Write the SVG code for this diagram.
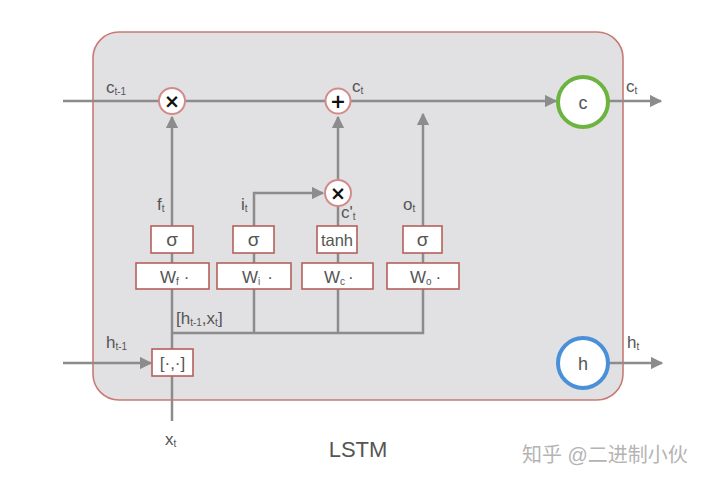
<svg xmlns="http://www.w3.org/2000/svg" width="708" height="483" viewBox="0 0 708 483">
<style>
.ln{stroke:#8c8c8c;stroke-width:2.5;fill:none}
.arr{marker-end:url(#ah)}
.op{fill:#fff;stroke:#d48a8a;stroke-width:2}
.bx{fill:#fff;stroke:#b5605a;stroke-width:1.6}
.t{font-family:"Liberation Sans",Arial,sans-serif;fill:#555}
.lbl{font-size:17px}
.sub{font-size:10px}
.sym{font-family:"DejaVu Sans",sans-serif;font-weight:bold;fill:#111;font-size:19px;text-anchor:middle}
</style>
<defs>
<marker id="ah" viewBox="0 0 10 10" refX="9" refY="5" markerWidth="5" markerHeight="5" orient="auto" markerUnits="strokeWidth">
<path d="M0,0 L10,5 L0,10 z" fill="#8c8c8c"/>
</marker>
</defs>
<rect width="708" height="483" fill="#fff"/>
<g id="cell">
<rect x="93" y="32" width="530" height="368" rx="26" ry="26" fill="#e1e1e3" stroke="#c97a76" stroke-width="1.6"/>
</g>
<g id="connectors">
<line class="ln" x1="63" y1="101" x2="159" y2="101"/>
<line class="ln" x1="186" y1="101" x2="325" y2="101"/>
<line class="ln arr" x1="351" y1="101" x2="556" y2="101"/>
<line class="ln arr" x1="609" y1="101" x2="661" y2="101"/>
<line class="ln arr" x1="172" y1="226" x2="172" y2="117"/>
<line class="ln arr" x1="338" y1="180" x2="338" y2="117"/>
<line class="ln arr" x1="423" y1="226" x2="423" y2="114"/>
<polyline class="ln arr" points="254,226 254,193 323,193"/>
<line class="ln" x1="338" y1="206" x2="338" y2="226"/>
<line class="ln" x1="172" y1="253" x2="172" y2="263"/>
<line class="ln" x1="254" y1="253" x2="254" y2="263"/>
<line class="ln" x1="338" y1="253" x2="338" y2="263"/>
<line class="ln" x1="423" y1="253" x2="423" y2="263"/>
<polyline class="ln" points="172,289 172,349"/>
<polyline class="ln" points="254,289 254,333"/>
<polyline class="ln" points="338,289 338,333"/>
<polyline class="ln" points="423,289 423,333 172,333"/>
<line class="ln" x1="172" y1="376" x2="172" y2="421"/>
<line class="ln arr" x1="63" y1="363" x2="151" y2="363"/>
<line class="ln arr" x1="609" y1="363" x2="662" y2="363"/>
</g>
<g id="mul_f">
<circle class="op" cx="172" cy="101" r="13"/>
<text class="sym" x="172" y="108">×</text>
</g>
<g id="add_c">
<circle class="op" cx="338" cy="101" r="12.5"/>
<text class="sym" x="338" y="108">+</text>
</g>
<g id="mul_i">
<circle class="op" cx="338" cy="193" r="13"/>
<text class="sym" x="338" y="200">×</text>
</g>
<g id="c_state">
<circle cx="583" cy="102" r="25" fill="#fff" stroke="#6db33f" stroke-width="4"/>
<text class="t" x="583" y="109" font-size="18" text-anchor="middle">c</text>
</g>
<g id="h_state">
<circle cx="583" cy="363" r="25" fill="#fff" stroke="#4a90d9" stroke-width="4"/>
<text class="t" x="583" y="370" font-size="18" text-anchor="middle">h</text>
</g>
<g id="sig_f">
<rect class="bx" x="151" y="226" width="42" height="27"/>
<text class="t" x="172" y="246" font-size="19" text-anchor="middle">σ</text>
</g>
<g id="sig_i">
<rect class="bx" x="233" y="226" width="41" height="27"/>
<text class="t" x="253.5" y="246" font-size="19" text-anchor="middle">σ</text>
</g>
<g id="tanh_c">
<rect class="bx" x="317" y="226" width="40" height="27"/>
<text class="t" x="337" y="246" font-size="16.5" text-anchor="middle">tanh</text>
</g>
<g id="sig_o">
<rect class="bx" x="403" y="226" width="39" height="27"/>
<text class="t" x="422.5" y="246" font-size="19" text-anchor="middle">σ</text>
</g>
<g id="W_f">
<rect class="bx" x="136" y="263" width="73" height="26"/>
<text class="t" x="160" y="283" font-size="17">W<tspan class="sub" dy="2">f</tspan><tspan dy="-2" dx="5">·</tspan></text>
</g>
<g id="W_i">
<rect class="bx" x="217" y="263" width="74" height="26"/>
<text class="t" x="242" y="283" font-size="17">W<tspan class="sub" dy="2">i</tspan><tspan dy="-2" dx="7">·</tspan></text>
</g>
<g id="W_c">
<rect class="bx" x="302" y="263" width="71" height="26"/>
<text class="t" x="324" y="283" font-size="17">W<tspan class="sub" dy="2">c</tspan><tspan dy="-2" dx="3">·</tspan></text>
</g>
<g id="W_o">
<rect class="bx" x="387" y="263" width="72" height="26"/>
<text class="t" x="410" y="283" font-size="17">W<tspan class="sub" dy="2">o</tspan><tspan dy="-2" dx="4">·</tspan></text>
</g>
<g id="concat">
<rect class="bx" x="152" y="349" width="41" height="27"/>
<text class="t" x="172.5" y="369" font-size="17" text-anchor="middle">[·,·]</text>
</g>
<g id="labels">
<text class="t lbl" x="106" y="93">c<tspan class="sub" dy="2">t-1</tspan></text>
<text class="t lbl" x="352" y="92">c<tspan class="sub" dy="2">t</tspan></text>
<text class="t lbl" x="626" y="92">c<tspan class="sub" dy="2">t</tspan></text>
<text class="t lbl" x="157" y="210">f<tspan class="sub" dy="2">t</tspan></text>
<text class="t lbl" x="241" y="210">i<tspan class="sub" dy="2">t</tspan></text>
<text class="t lbl" x="341" y="218">c'<tspan class="sub" dy="2">t</tspan></text>
<text class="t lbl" x="403" y="210">o<tspan class="sub" dy="2">t</tspan></text>
<text class="t lbl" x="176" y="324">[h<tspan class="sub" dy="2">t-1</tspan><tspan dy="-2">,x</tspan><tspan class="sub" dy="2">t</tspan><tspan dy="-2">]</tspan></text>
<text class="t lbl" x="106" y="348">h<tspan class="sub" dy="2">t-1</tspan></text>
<text class="t lbl" x="627" y="348">h<tspan class="sub" dy="2">t</tspan></text>
<text class="t lbl" x="165" y="445">x<tspan class="sub" dy="2">t</tspan></text>
<text class="t" x="358" y="457" font-size="22" text-anchor="middle">LSTM</text>
<text x="522" y="462" font-size="20" fill="#b4b4b4" font-family="'Liberation Sans','Noto Sans CJK SC',sans-serif">知乎 @二进制小伙</text>
</g>
</svg>
